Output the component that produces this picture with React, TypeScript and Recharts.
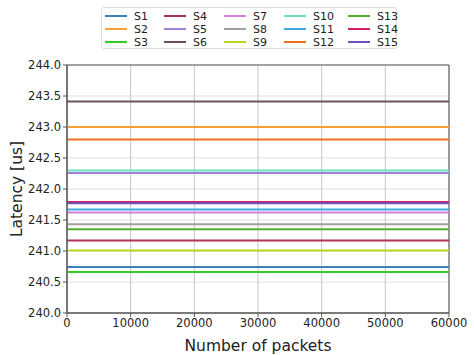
import React from 'react';
import { LineChart, Line, XAxis, YAxis, CartesianGrid, Legend, ReferenceArea } from 'recharts';

const packets = [0, 10000, 20000, 30000, 40000, 50000, 60000];
const seriesNames = ['S1','S2','S3','S4','S5','S6','S7','S8','S9','S10','S11','S12','S13','S14','S15'];
const seriesLatency = [240.74, 243.0, 240.66, 241.17, 242.26, 243.41, 241.62, 241.43, 241.01, 242.3, 241.67, 242.8, 241.35, 241.79, 241.77];
const seriesColors = ['#3a7fb8','#f5a030','#33cc22','#b03050','#a080e0','#705058','#d880d8','#a0a0a0','#b8d820','#70e0c0','#40a8e0','#f07020','#50b030','#d02060','#7050c0'];
const yTicks = [240.0, 240.5, 241.0, 241.5, 242.0, 242.5, 243.0, 243.5, 244.0];
const xTicks = [0, 10000, 20000, 30000, 40000, 50000, 60000];

const data = packets.map((p) => {
  const row: Record<string, number> = { packets: p };
  seriesNames.forEach((n, i) => { row[n] = seriesLatency[i]; });
  return row;
});

const FONT = 'DejaVu Sans, sans-serif';
const colX = [3, 62, 122, 182, 246];
const rowY = [8, 21, 34];

const renderLegend = () => (
  <div style={{ position: 'relative', width: 296, height: 42, border: '1px solid #dcdcdc', borderRadius: 3, boxSizing: 'border-box', background: '#fff', fontFamily: FONT, fontSize: 11, color: '#222' }}>
    {seriesNames.map((n, i) => {
      const c = Math.floor(i / 3);
      const r = i % 3;
      return (
        <div key={n} style={{ position: 'absolute', left: colX[c], top: rowY[r] - 7, height: 14, display: 'flex', alignItems: 'center', whiteSpace: 'nowrap' }}>
          <span style={{ display: 'inline-block', width: 22, height: 2, background: seriesColors[i], marginRight: 7 }} />
          <span>{n}</span>
        </div>
      );
    })}
  </div>
);

export default function App() {
  return (
    <div style={{ position: 'absolute', left: 0, top: 0, width: 474, height: 355, background: '#fff' }}>
      <LineChart width={474} height={355} data={data} margin={{ top: 65, right: 25, bottom: 5, left: 16 }}>
        <CartesianGrid horizontal={true} vertical={false} stroke="#e0e0e0" />
        <CartesianGrid horizontal={false} vertical={true} stroke="#c4c4c4" />
        <XAxis
          dataKey="packets"
          type="number"
          domain={[0, 60000]}
          ticks={xTicks}
          height={37}
          tickSize={4}
          tickMargin={2}
          stroke="#555"
          tick={{ fill: '#222', fontSize: 11.5, fontFamily: FONT }}
          label={{ value: 'Number of packets', position: 'insideBottom', offset: -1, style: { fill: '#222', fontSize: 15.5, fontFamily: FONT } }}
        />
        <YAxis
          type="number"
          domain={[240, 244]}
          ticks={yTicks}
          width={51}
          tickSize={4}
          tickMargin={2}
          stroke="#555"
          tickFormatter={(v: number) => v.toFixed(1)}
          tick={{ fill: '#222', fontSize: 11.5, fontFamily: FONT }}
          label={{ value: 'Latency [us]', angle: -90, position: 'insideLeft', offset: 0, style: { textAnchor: 'middle', fill: '#222', fontSize: 15.5, fontFamily: FONT } }}
        />
        <ReferenceArea x1={0} x2={60000} y1={240} y2={244} fill="none" stroke="#555" strokeWidth={1} ifOverflow="visible" />
        {seriesNames.map((n, i) => (
          <Line key={n} dataKey={n} stroke={seriesColors[i]} strokeWidth={2} dot={false} isAnimationActive={false} />
        ))}
        <Legend layout="vertical" verticalAlign="middle" align="center" content={renderLegend} wrapperStyle={{ top: 7, left: 101, width: 296, height: 42 }} />
      </LineChart>
    </div>
  );
}
